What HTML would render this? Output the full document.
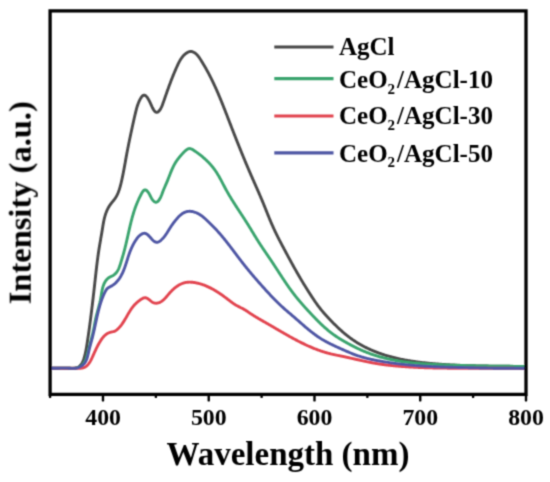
<!DOCTYPE html>
<html><head><meta charset="utf-8"><style>
html,body{margin:0;padding:0;background:#fff;}
body{width:550px;height:482px;overflow:hidden;}
svg{display:block;}
text{font-family:"Liberation Serif","Times New Roman",serif;font-weight:bold;fill:#000;}
</style></head><body>
<svg width="550" height="482" viewBox="0 0 550 482">
<defs><filter id="soft" x="0" y="0" width="550" height="482" filterUnits="userSpaceOnUse"><feConvolveMatrix order="3" kernelMatrix="0.0361 0.1178 0.0361 0.1178 0.3846 0.1178 0.0361 0.1178 0.0361" divisor="1" edgeMode="duplicate" preserveAlpha="false"/></filter></defs>
<rect width="550" height="482" fill="#fff"/>
<g filter="url(#soft)">
<g clip-path="url(#clip)">
<path d="M50.00,368.19L51.01,368.21L52.03,368.22L53.06,368.22L54.09,368.22L55.12,368.22L56.15,368.21L57.18,368.20L58.21,368.19L59.24,368.18L60.26,368.17L61.28,368.17L62.29,368.16L63.29,368.17L64.28,368.17L65.28,368.19L66.29,368.20L67.30,368.22L68.34,368.25L69.40,368.28L70.48,368.31L71.59,368.34L72.70,368.35L73.80,368.31L74.86,368.22L75.88,368.04L76.84,367.77L77.73,367.41L78.54,366.94L79.30,366.40L79.99,365.77L80.63,365.07L81.22,364.31L81.76,363.49L82.25,362.62L82.70,361.70L83.12,360.75L83.50,359.78L83.85,358.78L84.17,357.76L84.47,356.74L84.75,355.72L85.01,354.70L85.25,353.68L85.48,352.67L85.70,351.65L85.91,350.64L86.10,349.63L86.28,348.62L86.46,347.62L86.63,346.61L86.79,345.60L86.95,344.60L87.10,343.59L87.26,342.59L87.41,341.58L87.56,340.57L87.71,339.56L87.86,338.56L88.01,337.55L88.16,336.54L88.30,335.53L88.45,334.52L88.59,333.51L88.73,332.50L88.88,331.49L89.02,330.48L89.16,329.47L89.30,328.45L89.44,327.44L89.57,326.43L89.71,325.41L89.85,324.40L89.98,323.39L90.11,322.37L90.25,321.36L90.38,320.35L90.51,319.33L90.64,318.32L90.77,317.30L90.90,316.28L91.03,315.27L91.16,314.25L91.29,313.24L91.41,312.22L91.54,311.20L91.66,310.19L91.79,309.17L91.91,308.15L92.03,307.14L92.16,306.12L92.28,305.10L92.40,304.08L92.52,303.07L92.64,302.05L92.76,301.03L92.88,300.01L93.00,298.99L93.12,297.98L93.23,296.96L93.35,295.94L93.47,294.92L93.59,293.90L93.70,292.89L93.82,291.87L93.93,290.85L94.05,289.83L94.16,288.81L94.27,287.80L94.39,286.78L94.50,285.76L94.61,284.74L94.73,283.73L94.84,282.71L94.95,281.69L95.06,280.67L95.18,279.66L95.29,278.64L95.40,277.62L95.51,276.61L95.62,275.59L95.74,274.57L95.85,273.56L95.96,272.54L96.08,271.53L96.19,270.51L96.31,269.49L96.43,268.48L96.54,267.46L96.66,266.45L96.78,265.43L96.91,264.42L97.03,263.40L97.16,262.39L97.28,261.38L97.41,260.36L97.54,259.35L97.68,258.34L97.81,257.32L97.95,256.31L98.09,255.30L98.23,254.28L98.37,253.27L98.52,252.26L98.67,251.25L98.82,250.24L98.98,249.22L99.14,248.21L99.30,247.20L99.47,246.19L99.63,245.18L99.81,244.17L99.98,243.16L100.15,242.15L100.33,241.14L100.51,240.13L100.68,239.12L100.86,238.11L101.04,237.10L101.22,236.09L101.39,235.08L101.57,234.07L101.74,233.06L101.91,232.05L102.08,231.04L102.24,230.03L102.41,229.02L102.57,228.01L102.73,227.00L102.89,225.99L103.05,224.98L103.22,223.97L103.40,222.97L103.59,221.97L103.78,220.97L103.99,219.97L104.21,218.98L104.45,217.99L104.70,217.00L104.97,216.02L105.26,215.04L105.57,214.07L105.91,213.11L106.27,212.15L106.65,211.20L107.06,210.26L107.49,209.33L107.96,208.41L108.45,207.51L108.96,206.62L109.51,205.74L110.09,204.88L110.69,204.04L111.33,203.21L111.99,202.40L112.65,201.60L113.32,200.79L113.97,199.98L114.59,199.16L115.18,198.32L115.73,197.47L116.25,196.59L116.74,195.71L117.20,194.81L117.63,193.89L118.04,192.97L118.42,192.03L118.78,191.08L119.12,190.12L119.44,189.16L119.74,188.19L120.03,187.21L120.30,186.22L120.56,185.23L120.81,184.23L121.05,183.24L121.28,182.24L121.51,181.24L121.74,180.24L121.96,179.24L122.17,178.23L122.38,177.23L122.59,176.23L122.80,175.22L123.00,174.22L123.20,173.21L123.39,172.21L123.59,171.20L123.78,170.20L123.97,169.19L124.16,168.19L124.34,167.18L124.53,166.17L124.71,165.17L124.90,164.16L125.08,163.15L125.26,162.15L125.44,161.14L125.63,160.13L125.81,159.13L125.99,158.12L126.18,157.11L126.36,156.11L126.55,155.10L126.73,154.10L126.92,153.09L127.11,152.09L127.31,151.08L127.50,150.08L127.70,149.07L127.89,148.07L128.09,147.07L128.29,146.06L128.49,145.06L128.69,144.06L128.89,143.05L129.10,142.05L129.30,141.05L129.51,140.05L129.72,139.04L129.93,138.04L130.14,137.04L130.35,136.04L130.56,135.03L130.77,134.03L130.99,133.03L131.20,132.03L131.42,131.03L131.63,130.03L131.85,129.02L132.07,128.02L132.28,127.02L132.50,126.02L132.72,125.02L132.94,124.01L133.16,123.01L133.38,122.01L133.61,121.01L133.83,120.01L134.05,119.01L134.28,118.01L134.51,117.02L134.74,116.03L134.97,115.04L135.20,114.05L135.43,113.06L135.67,112.08L135.91,111.10L136.16,110.12L136.41,109.15L136.68,108.17L136.96,107.19L137.26,106.21L137.59,105.22L137.94,104.23L138.32,103.23L138.73,102.22L139.19,101.20L139.68,100.16L140.21,99.13L140.79,98.12L141.39,97.20L142.03,96.39L142.68,95.74L143.36,95.30L144.05,95.11L144.74,95.20L145.44,95.55L146.13,96.12L146.80,96.86L147.45,97.73L148.06,98.67L148.63,99.66L149.16,100.65L149.66,101.65L150.13,102.65L150.59,103.66L151.04,104.68L151.50,105.71L151.98,106.74L152.49,107.79L153.03,108.81L153.59,109.79L154.19,110.66L154.81,111.40L155.46,111.96L156.13,112.29L156.83,112.36L157.54,112.16L158.25,111.72L158.95,111.09L159.62,110.30L160.25,109.40L160.83,108.44L161.35,107.44L161.81,106.41L162.24,105.38L162.63,104.35L162.99,103.34L163.35,102.34L163.69,101.36L164.03,100.38L164.36,99.42L164.69,98.46L165.03,97.50L165.36,96.54L165.69,95.58L166.02,94.63L166.36,93.67L166.70,92.72L167.03,91.76L167.37,90.81L167.71,89.86L168.05,88.91L168.40,87.95L168.74,87.00L169.09,86.05L169.44,85.10L169.79,84.15L170.15,83.20L170.51,82.25L170.87,81.30L171.23,80.35L171.60,79.40L171.97,78.45L172.34,77.50L172.72,76.55L173.10,75.60L173.49,74.65L173.88,73.70L174.28,72.75L174.68,71.80L175.08,70.84L175.49,69.89L175.90,68.94L176.32,67.98L176.75,67.02L177.18,66.07L177.61,65.11L178.06,64.16L178.52,63.22L178.99,62.28L179.48,61.36L179.99,60.46L180.52,59.57L181.08,58.71L181.66,57.87L182.26,57.06L182.90,56.28L183.57,55.53L184.28,54.82L185.03,54.16L185.81,53.53L186.64,52.95L187.51,52.43L188.41,52.00L189.34,51.68L190.29,51.51L191.26,51.51L192.24,51.69L193.19,52.01L194.09,52.44L194.94,52.95L195.74,53.55L196.49,54.22L197.20,54.95L197.87,55.73L198.52,56.55L199.13,57.41L199.73,58.28L200.31,59.18L200.87,60.07L201.43,60.97L201.99,61.86L202.53,62.75L203.07,63.64L203.60,64.53L204.12,65.42L204.64,66.30L205.16,67.19L205.66,68.08L206.17,68.96L206.66,69.85L207.15,70.74L207.64,71.64L208.13,72.53L208.60,73.43L209.08,74.33L209.55,75.23L210.01,76.14L210.48,77.05L210.93,77.96L211.39,78.87L211.84,79.78L212.29,80.70L212.73,81.61L213.17,82.53L213.60,83.45L214.04,84.38L214.47,85.30L214.89,86.23L215.32,87.16L215.74,88.09L216.15,89.02L216.57,89.95L216.98,90.89L217.39,91.82L217.79,92.76L218.20,93.70L218.60,94.64L219.00,95.58L219.40,96.52L219.79,97.46L220.18,98.41L220.57,99.35L220.96,100.30L221.35,101.25L221.74,102.20L222.12,103.15L222.50,104.10L222.88,105.05L223.26,106.00L223.64,106.95L224.02,107.91L224.39,108.86L224.77,109.81L225.14,110.77L225.51,111.72L225.88,112.68L226.26,113.63L226.63,114.59L227.00,115.55L227.37,116.50L227.74,117.46L228.10,118.41L228.47,119.37L228.84,120.33L229.21,121.28L229.58,122.24L229.95,123.20L230.32,124.15L230.69,125.11L231.06,126.06L231.43,127.02L231.80,127.97L232.17,128.93L232.54,129.88L232.91,130.84L233.28,131.79L233.66,132.74L234.03,133.70L234.40,134.65L234.78,135.60L235.15,136.56L235.53,137.51L235.90,138.46L236.28,139.41L236.66,140.36L237.03,141.31L237.41,142.26L237.79,143.21L238.17,144.16L238.55,145.11L238.93,146.06L239.31,147.01L239.70,147.96L240.08,148.91L240.46,149.85L240.85,150.80L241.23,151.75L241.62,152.70L242.00,153.64L242.39,154.59L242.78,155.54L243.17,156.48L243.56,157.43L243.95,158.37L244.34,159.32L244.73,160.26L245.12,161.20L245.52,162.15L245.91,163.09L246.31,164.03L246.71,164.98L247.10,165.92L247.50,166.86L247.90,167.80L248.30,168.74L248.70,169.68L249.11,170.62L249.51,171.56L249.92,172.50L250.32,173.44L250.73,174.38L251.14,175.32L251.55,176.26L251.96,177.19L252.37,178.13L252.78,179.07L253.19,180.01L253.61,180.94L254.02,181.88L254.43,182.81L254.85,183.75L255.26,184.69L255.68,185.62L256.09,186.56L256.50,187.50L256.92,188.44L257.33,189.37L257.74,190.31L258.15,191.25L258.56,192.19L258.97,193.13L259.38,194.07L259.79,195.01L260.19,195.95L260.59,196.89L261.00,197.83L261.40,198.77L261.79,199.72L262.19,200.66L262.58,201.61L262.97,202.55L263.36,203.50L263.75,204.45L264.13,205.40L264.52,206.35L264.90,207.30L265.28,208.25L265.66,209.20L266.04,210.15L266.42,211.10L266.80,212.05L267.18,213.00L267.56,213.95L267.95,214.90L268.33,215.85L268.72,216.80L269.10,217.75L269.49,218.69L269.88,219.64L270.28,220.58L270.67,221.52L271.07,222.47L271.48,223.41L271.88,224.34L272.29,225.28L272.71,226.21L273.13,227.15L273.55,228.08L273.98,229.01L274.41,229.93L274.84,230.86L275.28,231.78L275.73,232.70L276.17,233.62L276.62,234.54L277.08,235.46L277.53,236.38L277.99,237.29L278.45,238.20L278.92,239.12L279.38,240.03L279.85,240.94L280.32,241.85L280.80,242.75L281.27,243.66L281.75,244.57L282.23,245.47L282.71,246.38L283.19,247.28L283.67,248.19L284.15,249.09L284.64,249.99L285.12,250.89L285.60,251.80L286.09,252.70L286.57,253.60L287.06,254.50L287.55,255.40L288.03,256.31L288.52,257.21L289.01,258.11L289.50,259.01L289.98,259.91L290.47,260.80L290.97,261.70L291.46,262.60L291.95,263.50L292.44,264.39L292.94,265.29L293.44,266.19L293.93,267.08L294.43,267.97L294.93,268.87L295.43,269.76L295.94,270.65L296.44,271.54L296.95,272.43L297.46,273.31L297.97,274.20L298.48,275.09L298.99,275.97L299.51,276.85L300.03,277.74L300.54,278.62L301.07,279.50L301.59,280.37L302.12,281.25L302.64,282.13L303.17,283.00L303.70,283.88L304.24,284.75L304.77,285.62L305.31,286.49L305.85,287.36L306.39,288.23L306.93,289.09L307.48,289.96L308.02,290.82L308.57,291.69L309.12,292.55L309.68,293.41L310.23,294.27L310.79,295.13L311.35,295.99L311.91,296.85L312.47,297.70L313.04,298.56L313.60,299.41L314.17,300.26L314.75,301.10L315.33,301.95L315.91,302.79L316.50,303.62L317.10,304.45L317.70,305.28L318.31,306.10L318.92,306.91L319.55,307.72L320.18,308.52L320.81,309.32L321.46,310.11L322.11,310.89L322.77,311.67L323.43,312.44L324.10,313.21L324.78,313.97L325.46,314.73L326.14,315.49L326.83,316.24L327.52,316.99L328.22,317.74L328.92,318.49L329.62,319.23L330.32,319.98L331.03,320.72L331.74,321.45L332.46,322.19L333.17,322.92L333.89,323.65L334.62,324.37L335.35,325.09L336.08,325.81L336.82,326.52L337.56,327.23L338.30,327.94L339.05,328.64L339.80,329.33L340.56,330.02L341.32,330.70L342.09,331.38L342.86,332.05L343.63,332.72L344.41,333.38L345.20,334.04L345.99,334.68L346.79,335.32L347.59,335.96L348.40,336.58L349.21,337.20L350.03,337.81L350.85,338.41L351.68,339.01L352.52,339.60L353.36,340.17L354.21,340.74L355.07,341.30L355.93,341.86L356.79,342.40L357.66,342.94L358.54,343.46L359.42,343.98L360.31,344.50L361.20,345.00L362.09,345.49L363.00,345.98L363.90,346.46L364.81,346.93L365.72,347.39L366.64,347.85L367.56,348.30L368.49,348.73L369.42,349.17L370.35,349.59L371.29,350.00L372.23,350.41L373.17,350.81L374.12,351.20L375.07,351.59L376.02,351.97L376.97,352.34L377.93,352.70L378.89,353.05L379.85,353.40L380.82,353.74L381.78,354.07L382.75,354.39L383.72,354.71L384.70,355.02L385.67,355.33L386.65,355.62L387.63,355.91L388.61,356.19L389.59,356.47L390.57,356.74L391.56,357.01L392.55,357.26L393.54,357.51L394.53,357.76L395.52,358.00L396.51,358.23L397.51,358.46L398.51,358.68L399.50,358.90L400.50,359.11L401.50,359.32L402.51,359.52L403.51,359.71L404.51,359.90L405.52,360.09L406.53,360.27L407.53,360.44L408.54,360.61L409.55,360.78L410.56,360.94L411.57,361.10L412.59,361.26L413.60,361.41L414.61,361.55L415.63,361.69L416.64,361.83L417.66,361.97L418.68,362.10L419.70,362.22L420.71,362.35L421.73,362.47L422.75,362.59L423.77,362.70L424.79,362.81L425.81,362.92L426.83,363.03L427.85,363.13L428.87,363.23L429.89,363.33L430.91,363.42L431.93,363.52L432.95,363.61L433.97,363.70L434.99,363.78L436.01,363.87L437.03,363.95L438.05,364.03L439.08,364.11L440.10,364.19L441.12,364.26L442.14,364.34L443.16,364.41L444.18,364.48L445.20,364.54L446.22,364.61L447.24,364.67L448.26,364.73L449.29,364.79L450.31,364.85L451.33,364.91L452.35,364.96L453.37,365.02L454.39,365.07L455.41,365.12L456.43,365.17L457.46,365.22L458.48,365.26L459.50,365.31L460.52,365.35L461.54,365.39L462.56,365.43L463.59,365.47L464.61,365.51L465.63,365.54L466.65,365.58L467.67,365.61L468.70,365.65L469.72,365.68L470.74,365.71L471.76,365.74L472.78,365.77L473.81,365.79L474.83,365.82L475.85,365.85L476.87,365.87L477.90,365.89L478.92,365.92L479.94,365.94L480.96,365.96L481.99,365.98L483.01,366.00L484.03,366.02L485.05,366.04L486.08,366.05L487.10,366.07L488.12,366.08L489.15,366.10L490.17,366.11L491.19,366.13L492.22,366.14L493.24,366.16L494.26,366.17L495.28,366.18L496.31,366.19L497.33,366.20L498.36,366.22L499.38,366.23L500.40,366.24L501.43,366.25L502.45,366.26L503.47,366.27L504.50,366.28L505.52,366.29L506.55,366.30L507.57,366.31L508.59,366.32L509.62,366.32L510.64,366.33L511.67,366.34L512.69,366.35L513.72,366.36L514.74,366.37L515.77,366.38L516.79,366.39L517.81,366.40L518.84,366.41L519.86,366.42L520.89,366.43L521.91,366.45L522.94,366.46L523.96,366.47L524.99,366.48L526.02,366.50" fill="none" stroke="#484848" stroke-width="2.9" stroke-linejoin="round" stroke-linecap="round"/>
<path d="M50.00,368.19L50.82,368.21L51.64,368.22L52.46,368.23L53.29,368.23L54.11,368.23L54.94,368.22L55.77,368.21L56.60,368.20L57.43,368.20L58.26,368.19L59.09,368.18L59.92,368.17L60.75,368.17L61.58,368.16L62.40,368.16L63.22,368.17L64.04,368.18L64.86,368.19L65.67,368.20L66.49,368.22L67.30,368.23L68.12,368.25L68.94,368.26L69.76,368.27L70.59,368.27L71.43,368.26L72.27,368.25L73.12,368.23L73.97,368.19L74.81,368.13L75.65,368.04L76.48,367.92L77.30,367.77L78.09,367.57L78.87,367.32L79.61,367.02L80.33,366.65L81.00,366.23L81.64,365.73L82.24,365.17L82.80,364.55L83.32,363.89L83.80,363.20L84.24,362.49L84.65,361.77L85.03,361.03L85.38,360.28L85.70,359.52L85.99,358.76L86.27,357.98L86.52,357.19L86.76,356.40L86.99,355.60L87.20,354.80L87.41,354.00L87.61,353.19L87.81,352.39L88.01,351.58L88.21,350.78L88.42,349.98L88.62,349.18L88.83,348.38L89.04,347.58L89.26,346.78L89.47,345.99L89.69,345.19L89.90,344.40L90.12,343.61L90.34,342.82L90.55,342.02L90.77,341.23L90.98,340.44L91.20,339.65L91.41,338.85L91.62,338.06L91.82,337.27L92.03,336.47L92.23,335.67L92.42,334.87L92.61,334.07L92.80,333.27L92.98,332.47L93.16,331.66L93.33,330.86L93.50,330.05L93.66,329.23L93.82,328.42L93.97,327.61L94.13,326.79L94.28,325.97L94.43,325.16L94.58,324.34L94.73,323.52L94.88,322.71L95.03,321.89L95.19,321.08L95.36,320.27L95.52,319.46L95.69,318.65L95.87,317.84L96.06,317.04L96.25,316.24L96.45,315.44L96.65,314.65L96.86,313.85L97.06,313.06L97.28,312.27L97.49,311.48L97.70,310.69L97.92,309.89L98.14,309.10L98.35,308.31L98.56,307.52L98.78,306.72L98.99,305.93L99.19,305.13L99.39,304.33L99.59,303.53L99.79,302.73L99.97,301.92L100.15,301.11L100.33,300.30L100.49,299.48L100.65,298.66L100.80,297.84L100.94,297.01L101.08,296.18L101.21,295.35L101.35,294.52L101.48,293.69L101.62,292.86L101.77,292.04L101.92,291.22L102.08,290.40L102.25,289.59L102.43,288.78L102.63,287.98L102.85,287.19L103.08,286.41L103.34,285.64L103.62,284.89L103.92,284.14L104.25,283.41L104.61,282.69L105.00,281.98L105.42,281.29L105.87,280.62L106.37,279.98L106.90,279.36L107.47,278.78L108.09,278.24L108.76,277.76L109.47,277.32L110.22,276.92L110.98,276.55L111.75,276.18L112.50,275.81L113.23,275.40L113.91,274.96L114.54,274.47L115.14,273.94L115.70,273.38L116.22,272.78L116.70,272.15L117.15,271.49L117.58,270.81L117.97,270.10L118.34,269.37L118.69,268.62L119.02,267.86L119.33,267.08L119.62,266.29L119.90,265.49L120.17,264.69L120.43,263.88L120.68,263.07L120.93,262.26L121.17,261.45L121.42,260.65L121.66,259.85L121.90,259.05L122.14,258.26L122.37,257.47L122.61,256.68L122.84,255.90L123.07,255.11L123.29,254.33L123.52,253.54L123.74,252.75L123.95,251.97L124.17,251.18L124.38,250.39L124.59,249.59L124.79,248.80L124.99,248.00L125.19,247.21L125.39,246.41L125.58,245.61L125.78,244.81L125.97,244.01L126.16,243.21L126.34,242.40L126.53,241.60L126.71,240.79L126.90,239.99L127.08,239.18L127.26,238.37L127.44,237.57L127.62,236.76L127.80,235.95L127.98,235.14L128.16,234.33L128.34,233.52L128.52,232.71L128.71,231.91L128.89,231.10L129.07,230.29L129.25,229.48L129.44,228.67L129.62,227.87L129.81,227.06L130.00,226.25L130.19,225.45L130.38,224.64L130.58,223.84L130.77,223.04L130.97,222.24L131.17,221.44L131.38,220.64L131.59,219.84L131.80,219.04L132.01,218.25L132.23,217.45L132.45,216.66L132.67,215.87L132.90,215.08L133.13,214.29L133.37,213.50L133.61,212.72L133.85,211.94L134.10,211.16L134.36,210.38L134.62,209.61L134.88,208.83L135.15,208.06L135.42,207.29L135.71,206.53L135.99,205.76L136.28,205.00L136.58,204.25L136.89,203.49L137.20,202.74L137.52,201.99L137.84,201.24L138.17,200.49L138.52,199.74L138.87,198.98L139.23,198.21L139.61,197.43L140.00,196.64L140.40,195.82L140.82,194.99L141.25,194.13L141.70,193.28L142.17,192.47L142.66,191.72L143.16,191.06L143.68,190.52L144.21,190.13L144.76,189.91L145.33,189.90L145.92,190.09L146.50,190.45L147.08,190.96L147.65,191.58L148.20,192.29L148.72,193.05L149.20,193.85L149.65,194.66L150.08,195.48L150.49,196.29L150.91,197.10L151.33,197.90L151.78,198.67L152.26,199.41L152.77,200.11L153.33,200.75L153.92,201.31L154.52,201.76L155.14,202.08L155.75,202.23L156.36,202.20L156.95,202.00L157.53,201.65L158.09,201.17L158.62,200.57L159.14,199.89L159.63,199.13L160.09,198.32L160.52,197.48L160.92,196.62L161.28,195.78L161.61,194.97L161.91,194.18L162.19,193.41L162.46,192.66L162.72,191.92L163.00,191.18L163.30,190.44L163.60,189.70L163.92,188.95L164.24,188.21L164.57,187.46L164.90,186.71L165.24,185.96L165.57,185.20L165.91,184.44L166.24,183.69L166.57,182.92L166.89,182.16L167.21,181.39L167.52,180.62L167.83,179.85L168.13,179.08L168.43,178.30L168.73,177.53L169.03,176.75L169.33,175.98L169.63,175.21L169.93,174.44L170.23,173.67L170.54,172.90L170.85,172.13L171.16,171.37L171.48,170.61L171.80,169.85L172.13,169.10L172.47,168.35L172.81,167.60L173.17,166.86L173.53,166.13L173.91,165.40L174.29,164.68L174.69,163.96L175.10,163.25L175.52,162.55L175.95,161.86L176.40,161.17L176.87,160.50L177.35,159.83L177.83,159.17L178.33,158.52L178.83,157.87L179.35,157.24L179.87,156.61L180.40,155.98L180.94,155.36L181.49,154.73L182.06,154.11L182.65,153.48L183.25,152.84L183.87,152.20L184.51,151.56L185.17,150.93L185.84,150.34L186.52,149.80L187.22,149.34L187.92,148.97L188.63,148.70L189.35,148.57L190.06,148.59L190.78,148.74L191.49,149.01L192.21,149.37L192.92,149.79L193.63,150.24L194.33,150.71L195.03,151.19L195.73,151.67L196.42,152.15L197.10,152.64L197.79,153.13L198.46,153.63L199.13,154.14L199.80,154.65L200.46,155.16L201.11,155.68L201.76,156.21L202.40,156.74L203.04,157.27L203.67,157.81L204.29,158.36L204.91,158.91L205.52,159.47L206.12,160.03L206.72,160.60L207.31,161.18L207.90,161.76L208.47,162.34L209.04,162.94L209.60,163.53L210.16,164.14L210.70,164.75L211.24,165.37L211.77,165.99L212.29,166.62L212.81,167.25L213.31,167.89L213.81,168.54L214.30,169.20L214.78,169.86L215.25,170.53L215.71,171.20L216.17,171.88L216.62,172.57L217.06,173.26L217.49,173.96L217.91,174.66L218.33,175.37L218.75,176.08L219.16,176.79L219.56,177.51L219.96,178.23L220.36,178.95L220.75,179.68L221.15,180.41L221.53,181.14L221.92,181.87L222.31,182.60L222.69,183.34L223.08,184.07L223.46,184.81L223.84,185.54L224.23,186.27L224.62,187.01L225.00,187.74L225.40,188.47L225.79,189.20L226.19,189.93L226.58,190.65L226.99,191.37L227.39,192.09L227.80,192.81L228.22,193.53L228.63,194.24L229.05,194.95L229.47,195.66L229.89,196.37L230.32,197.08L230.75,197.78L231.18,198.49L231.61,199.19L232.04,199.89L232.48,200.59L232.92,201.29L233.36,201.99L233.80,202.69L234.24,203.38L234.68,204.08L235.13,204.77L235.58,205.46L236.02,206.15L236.47,206.85L236.92,207.54L237.37,208.23L237.82,208.92L238.27,209.61L238.73,210.30L239.18,210.99L239.63,211.68L240.08,212.37L240.54,213.06L240.99,213.74L241.44,214.43L241.89,215.12L242.34,215.81L242.79,216.50L243.24,217.19L243.69,217.89L244.14,218.58L244.59,219.27L245.04,219.96L245.48,220.66L245.93,221.35L246.37,222.05L246.81,222.75L247.25,223.44L247.69,224.14L248.12,224.84L248.56,225.54L248.99,226.25L249.42,226.95L249.86,227.65L250.29,228.36L250.72,229.06L251.14,229.77L251.57,230.48L252.00,231.18L252.43,231.89L252.86,232.59L253.28,233.30L253.71,234.01L254.14,234.71L254.57,235.42L255.00,236.12L255.43,236.83L255.87,237.53L256.30,238.23L256.73,238.93L257.17,239.63L257.61,240.33L258.05,241.03L258.49,241.73L258.94,242.42L259.38,243.12L259.83,243.81L260.28,244.50L260.74,245.19L261.19,245.88L261.65,246.57L262.10,247.25L262.56,247.94L263.02,248.62L263.49,249.31L263.95,249.99L264.41,250.67L264.87,251.35L265.34,252.04L265.80,252.72L266.27,253.40L266.74,254.08L267.20,254.76L267.67,255.44L268.13,256.12L268.60,256.81L269.06,257.49L269.52,258.17L269.99,258.85L270.45,259.54L270.91,260.22L271.37,260.91L271.83,261.59L272.29,262.28L272.74,262.97L273.20,263.66L273.65,264.35L274.10,265.04L274.56,265.73L275.01,266.42L275.46,267.11L275.91,267.80L276.36,268.49L276.81,269.18L277.26,269.88L277.71,270.57L278.16,271.26L278.61,271.95L279.06,272.65L279.51,273.34L279.96,274.03L280.41,274.72L280.86,275.41L281.31,276.10L281.77,276.79L282.22,277.48L282.67,278.17L283.13,278.86L283.58,279.55L284.04,280.23L284.50,280.92L284.96,281.60L285.42,282.29L285.88,282.97L286.35,283.65L286.81,284.33L287.28,285.01L287.75,285.69L288.22,286.37L288.70,287.04L289.17,287.71L289.65,288.38L290.13,289.05L290.62,289.72L291.10,290.39L291.59,291.05L292.08,291.71L292.57,292.37L293.07,293.03L293.57,293.69L294.07,294.34L294.58,294.99L295.09,295.64L295.60,296.29L296.12,296.93L296.64,297.58L297.16,298.22L297.68,298.86L298.21,299.49L298.74,300.13L299.27,300.76L299.80,301.39L300.34,302.02L300.88,302.64L301.42,303.27L301.96,303.89L302.51,304.51L303.05,305.13L303.60,305.75L304.15,306.37L304.70,306.98L305.26,307.60L305.81,308.21L306.37,308.82L306.93,309.43L307.48,310.04L308.04,310.65L308.60,311.26L309.17,311.86L309.73,312.47L310.29,313.07L310.86,313.68L311.42,314.28L311.98,314.88L312.55,315.48L313.12,316.08L313.69,316.68L314.26,317.27L314.83,317.86L315.40,318.46L315.97,319.05L316.55,319.64L317.13,320.22L317.71,320.81L318.29,321.39L318.88,321.97L319.46,322.54L320.05,323.12L320.64,323.69L321.24,324.26L321.84,324.82L322.44,325.38L323.04,325.94L323.65,326.50L324.26,327.05L324.88,327.59L325.49,328.14L326.12,328.68L326.74,329.21L327.37,329.75L328.01,330.27L328.64,330.80L329.29,331.31L329.93,331.83L330.58,332.34L331.24,332.84L331.90,333.34L332.56,333.84L333.22,334.32L333.89,334.81L334.56,335.29L335.24,335.76L335.92,336.23L336.60,336.69L337.29,337.15L337.98,337.60L338.67,338.04L339.37,338.48L340.06,338.91L340.77,339.34L341.47,339.76L342.18,340.18L342.89,340.60L343.60,341.01L344.31,341.42L345.03,341.83L345.74,342.23L346.46,342.63L347.18,343.03L347.91,343.43L348.63,343.82L349.36,344.22L350.09,344.61L350.81,344.99L351.55,345.38L352.28,345.76L353.01,346.14L353.75,346.52L354.49,346.89L355.23,347.26L355.97,347.62L356.71,347.99L357.46,348.35L358.20,348.70L358.95,349.05L359.70,349.40L360.46,349.74L361.21,350.08L361.96,350.41L362.72,350.74L363.48,351.07L364.24,351.39L365.00,351.70L365.77,352.01L366.54,352.32L367.30,352.62L368.07,352.91L368.84,353.20L369.62,353.49L370.39,353.77L371.17,354.05L371.94,354.32L372.72,354.59L373.50,354.85L374.29,355.11L375.07,355.36L375.86,355.61L376.64,355.85L377.43,356.09L378.22,356.33L379.01,356.56L379.80,356.79L380.59,357.01L381.39,357.23L382.18,357.44L382.98,357.65L383.78,357.86L384.58,358.06L385.38,358.26L386.18,358.46L386.98,358.65L387.78,358.83L388.59,359.02L389.39,359.20L390.20,359.37L391.00,359.54L391.81,359.71L392.62,359.87L393.43,360.04L394.24,360.19L395.05,360.35L395.86,360.50L396.67,360.64L397.49,360.79L398.30,360.93L399.11,361.07L399.93,361.20L400.74,361.33L401.56,361.46L402.38,361.58L403.19,361.70L404.01,361.82L404.83,361.94L405.65,362.05L406.46,362.16L407.28,362.27L408.10,362.37L408.92,362.47L409.74,362.57L410.56,362.66L411.38,362.76L412.20,362.85L413.02,362.93L413.84,363.02L414.66,363.10L415.48,363.18L416.31,363.26L417.13,363.34L417.95,363.41L418.77,363.48L419.59,363.55L420.41,363.62L421.24,363.68L422.06,363.75L422.88,363.81L423.71,363.87L424.53,363.92L425.35,363.98L426.17,364.03L427.00,364.09L427.82,364.14L428.64,364.19L429.47,364.23L430.29,364.28L431.12,364.32L431.94,364.37L432.76,364.41L433.59,364.45L434.41,364.49L435.24,364.53L436.06,364.57L436.89,364.60L437.71,364.64L438.53,364.67L439.36,364.71L440.18,364.74L441.01,364.77L441.83,364.81L442.66,364.84L443.48,364.87L444.31,364.90L445.13,364.93L445.96,364.95L446.78,364.98L447.61,365.01L448.43,365.04L449.26,365.07L450.08,365.09L450.91,365.12L451.73,365.15L452.56,365.18L453.38,365.20L454.21,365.23L455.03,365.25L455.86,365.28L456.68,365.30L457.51,365.33L458.33,365.35L459.16,365.38L459.98,365.40L460.81,365.43L461.63,365.45L462.46,365.47L463.28,365.50L464.11,365.52L464.93,365.54L465.76,365.57L466.58,365.59L467.41,365.61L468.23,365.63L469.06,365.65L469.88,365.67L470.71,365.69L471.53,365.71L472.36,365.73L473.18,365.75L474.01,365.77L474.83,365.79L475.66,365.81L476.48,365.83L477.31,365.85L478.13,365.87L478.96,365.88L479.78,365.90L480.61,365.92L481.43,365.93L482.26,365.95L483.08,365.97L483.91,365.98L484.74,366.00L485.56,366.01L486.39,366.03L487.21,366.04L488.04,366.06L488.86,366.07L489.69,366.08L490.51,366.10L491.34,366.11L492.16,366.12L492.99,366.13L493.81,366.15L494.64,366.16L495.46,366.17L496.29,366.18L497.11,366.19L497.94,366.20L498.76,366.21L499.59,366.22L500.41,366.23L501.24,366.24L502.06,366.25L502.89,366.25L503.72,366.26L504.54,366.27L505.37,366.28L506.19,366.28L507.02,366.29L507.84,366.30L508.67,366.30L509.49,366.31L510.32,366.31L511.14,366.32L511.97,366.32L512.79,366.32L513.62,366.33L514.44,366.33L515.27,366.33L516.10,366.33L516.92,366.34L517.75,366.34L518.57,366.34L519.40,366.34L520.22,366.34L521.05,366.34L521.87,366.34L522.70,366.34L523.53,366.34L524.35,366.34L525.18,366.33L526.00,366.33" fill="none" stroke="#3aa46e" stroke-width="2.9" stroke-linejoin="round" stroke-linecap="round"/>
<path d="M50.01,368.20L50.60,368.20L51.19,368.20L51.78,368.20L52.38,368.21L52.98,368.21L53.58,368.21L54.18,368.21L54.78,368.21L55.38,368.21L55.99,368.21L56.59,368.21L57.20,368.21L57.80,368.20L58.41,368.20L59.02,368.20L59.62,368.20L60.23,368.20L60.84,368.20L61.44,368.19L62.05,368.19L62.65,368.19L63.25,368.19L63.85,368.19L64.45,368.19L65.05,368.19L65.65,368.18L66.24,368.18L66.83,368.18L67.42,368.18L68.01,368.18L68.60,368.18L69.19,368.19L69.77,368.19L70.36,368.19L70.95,368.20L71.54,368.20L72.14,368.21L72.73,368.22L73.34,368.23L73.94,368.25L74.55,368.26L75.17,368.28L75.80,368.30L76.42,368.32L77.05,368.34L77.68,368.35L78.31,368.35L78.94,368.34L79.56,368.32L80.18,368.29L80.79,368.24L81.39,368.17L81.98,368.08L82.55,367.96L83.11,367.82L83.66,367.65L84.18,367.45L84.69,367.22L85.18,366.95L85.66,366.66L86.11,366.34L86.55,366.00L86.98,365.63L87.39,365.23L87.78,364.81L88.16,364.38L88.53,363.92L88.89,363.45L89.24,362.96L89.57,362.46L89.89,361.94L90.21,361.41L90.52,360.87L90.81,360.32L91.10,359.77L91.39,359.21L91.67,358.64L91.94,358.07L92.20,357.50L92.47,356.93L92.73,356.35L92.98,355.79L93.24,355.22L93.49,354.66L93.74,354.10L93.99,353.55L94.24,353.00L94.48,352.45L94.73,351.91L94.98,351.37L95.23,350.83L95.48,350.29L95.73,349.76L95.98,349.22L96.23,348.70L96.49,348.17L96.74,347.64L97.00,347.12L97.27,346.59L97.53,346.07L97.81,345.55L98.08,345.03L98.36,344.52L98.65,344.00L98.94,343.48L99.23,342.96L99.53,342.45L99.84,341.93L100.16,341.41L100.48,340.90L100.81,340.39L101.14,339.88L101.49,339.37L101.84,338.88L102.20,338.39L102.57,337.91L102.96,337.43L103.35,336.97L103.75,336.52L104.16,336.09L104.58,335.67L105.02,335.26L105.47,334.88L105.93,334.51L106.40,334.16L106.88,333.83L107.38,333.52L107.89,333.24L108.42,332.98L108.96,332.74L109.52,332.53L110.09,332.35L110.67,332.20L111.27,332.06L111.87,331.93L112.47,331.81L113.06,331.67L113.65,331.51L114.22,331.33L114.78,331.10L115.31,330.84L115.81,330.53L116.30,330.19L116.77,329.83L117.23,329.44L117.68,329.05L118.11,328.64L118.54,328.22L118.95,327.80L119.36,327.36L119.76,326.92L120.15,326.47L120.53,326.02L120.90,325.55L121.27,325.08L121.62,324.61L121.98,324.13L122.32,323.64L122.66,323.15L123.00,322.65L123.33,322.15L123.65,321.64L123.97,321.13L124.29,320.62L124.61,320.10L124.92,319.58L125.22,319.06L125.53,318.54L125.83,318.01L126.14,317.49L126.44,316.96L126.74,316.43L127.04,315.91L127.34,315.38L127.64,314.85L127.95,314.33L128.25,313.80L128.56,313.28L128.86,312.76L129.17,312.24L129.49,311.73L129.80,311.21L130.12,310.70L130.45,310.20L130.78,309.70L131.11,309.20L131.45,308.71L131.79,308.22L132.14,307.74L132.50,307.27L132.86,306.80L133.23,306.34L133.61,305.88L134.00,305.43L134.39,304.99L134.80,304.56L135.21,304.14L135.63,303.72L136.07,303.32L136.51,302.91L136.96,302.52L137.43,302.12L137.90,301.73L138.39,301.34L138.89,300.95L139.40,300.56L139.92,300.17L140.46,299.78L141.00,299.40L141.55,299.04L142.11,298.71L142.67,298.41L143.23,298.16L143.79,297.96L144.34,297.82L144.89,297.75L145.43,297.76L145.96,297.85L146.49,298.01L147.00,298.23L147.51,298.51L148.02,298.83L148.53,299.18L149.03,299.57L149.53,299.97L150.03,300.38L150.54,300.79L151.05,301.20L151.56,301.58L152.08,301.94L152.60,302.27L153.13,302.56L153.67,302.79L154.22,302.97L154.78,303.09L155.34,303.17L155.90,303.20L156.47,303.19L157.03,303.13L157.59,303.03L158.15,302.90L158.70,302.74L159.24,302.54L159.77,302.32L160.29,302.07L160.80,301.80L161.29,301.51L161.77,301.19L162.23,300.86L162.69,300.51L163.13,300.14L163.57,299.76L163.99,299.36L164.41,298.95L164.83,298.53L165.24,298.10L165.64,297.66L166.04,297.21L166.44,296.76L166.83,296.30L167.23,295.83L167.62,295.36L168.02,294.89L168.42,294.42L168.82,293.95L169.23,293.48L169.64,293.01L170.05,292.55L170.48,292.09L170.90,291.64L171.34,291.19L171.77,290.74L172.22,290.30L172.66,289.87L173.12,289.45L173.58,289.03L174.04,288.62L174.51,288.22L174.99,287.83L175.47,287.45L175.95,287.07L176.44,286.71L176.93,286.36L177.43,286.02L177.94,285.69L178.45,285.37L178.96,285.07L179.48,284.77L180.01,284.49L180.54,284.23L181.07,283.98L181.61,283.74L182.15,283.52L182.70,283.31L183.25,283.13L183.81,282.95L184.37,282.80L184.94,282.66L185.51,282.54L186.08,282.44L186.66,282.35L187.25,282.28L187.83,282.23L188.42,282.19L189.01,282.16L189.60,282.16L190.20,282.16L190.79,282.18L191.39,282.21L191.99,282.25L192.59,282.31L193.19,282.37L193.79,282.45L194.38,282.54L194.98,282.63L195.58,282.74L196.17,282.85L196.76,282.98L197.35,283.11L197.94,283.24L198.52,283.39L199.10,283.54L199.68,283.70L200.26,283.86L200.83,284.03L201.41,284.21L201.98,284.39L202.54,284.58L203.11,284.78L203.67,284.98L204.23,285.19L204.79,285.41L205.35,285.63L205.90,285.85L206.45,286.08L207.00,286.32L207.55,286.56L208.09,286.81L208.63,287.06L209.18,287.32L209.71,287.58L210.25,287.85L210.78,288.12L211.32,288.40L211.85,288.68L212.37,288.97L212.90,289.26L213.42,289.55L213.95,289.85L214.47,290.15L214.99,290.45L215.50,290.76L216.02,291.08L216.53,291.39L217.04,291.71L217.55,292.03L218.06,292.36L218.56,292.69L219.07,293.02L219.57,293.35L220.07,293.69L220.57,294.03L221.06,294.37L221.56,294.72L222.05,295.06L222.54,295.41L223.03,295.76L223.52,296.12L224.01,296.47L224.49,296.83L224.98,297.18L225.46,297.54L225.94,297.90L226.42,298.27L226.90,298.63L227.38,298.99L227.85,299.36L228.33,299.72L228.80,300.09L229.27,300.45L229.75,300.82L230.22,301.18L230.70,301.54L231.18,301.89L231.66,302.25L232.14,302.60L232.62,302.95L233.11,303.29L233.60,303.63L234.10,303.96L234.60,304.28L235.10,304.60L235.61,304.92L236.12,305.22L236.64,305.52L237.17,305.81L237.70,306.09L238.23,306.37L238.77,306.64L239.31,306.91L239.86,307.18L240.40,307.45L240.95,307.71L241.49,307.98L242.03,308.26L242.57,308.53L243.10,308.82L243.62,309.11L244.15,309.41L244.66,309.72L245.17,310.03L245.68,310.35L246.18,310.67L246.68,311.00L247.18,311.33L247.68,311.67L248.17,312.00L248.67,312.34L249.16,312.68L249.66,313.01L250.16,313.35L250.65,313.68L251.15,314.01L251.66,314.33L252.16,314.66L252.66,314.98L253.17,315.30L253.68,315.62L254.19,315.94L254.70,316.25L255.21,316.56L255.72,316.88L256.23,317.19L256.75,317.50L257.26,317.80L257.78,318.11L258.30,318.41L258.81,318.72L259.33,319.02L259.85,319.32L260.37,319.62L260.89,319.92L261.41,320.22L261.93,320.52L262.46,320.82L262.98,321.12L263.50,321.42L264.02,321.72L264.54,322.01L265.07,322.31L265.59,322.61L266.11,322.91L266.63,323.20L267.15,323.50L267.68,323.80L268.20,324.10L268.72,324.40L269.24,324.70L269.76,325.00L270.28,325.30L270.80,325.60L271.32,325.90L271.84,326.21L272.36,326.51L272.88,326.81L273.39,327.11L273.91,327.41L274.43,327.72L274.95,328.02L275.47,328.32L275.99,328.63L276.51,328.93L277.02,329.23L277.54,329.53L278.06,329.84L278.58,330.14L279.10,330.44L279.62,330.74L280.14,331.04L280.65,331.35L281.17,331.65L281.69,331.95L282.21,332.25L282.73,332.55L283.25,332.85L283.77,333.15L284.29,333.45L284.81,333.75L285.33,334.04L285.85,334.34L286.37,334.64L286.90,334.93L287.42,335.23L287.94,335.52L288.46,335.82L288.98,336.11L289.51,336.40L290.03,336.70L290.56,336.99L291.08,337.28L291.61,337.57L292.13,337.86L292.66,338.14L293.18,338.43L293.71,338.72L294.24,339.00L294.77,339.29L295.30,339.57L295.82,339.85L296.35,340.13L296.89,340.41L297.42,340.69L297.95,340.96L298.48,341.24L299.02,341.51L299.55,341.79L300.08,342.06L300.62,342.33L301.16,342.60L301.69,342.86L302.23,343.13L302.77,343.39L303.31,343.66L303.85,343.92L304.39,344.18L304.94,344.44L305.48,344.69L306.02,344.95L306.57,345.20L307.12,345.45L307.66,345.70L308.21,345.95L308.76,346.20L309.31,346.44L309.86,346.68L310.41,346.92L310.97,347.16L311.52,347.40L312.07,347.63L312.63,347.86L313.19,348.09L313.74,348.32L314.30,348.54L314.86,348.77L315.42,348.99L315.98,349.20L316.54,349.42L317.11,349.63L317.67,349.84L318.23,350.05L318.80,350.26L319.37,350.46L319.93,350.66L320.50,350.86L321.07,351.05L321.64,351.25L322.21,351.43L322.78,351.62L323.35,351.80L323.92,351.98L324.50,352.16L325.07,352.34L325.65,352.51L326.22,352.68L326.80,352.84L327.38,353.00L327.96,353.16L328.54,353.32L329.12,353.47L329.70,353.62L330.28,353.76L330.86,353.91L331.44,354.04L332.03,354.18L332.61,354.31L333.19,354.44L333.78,354.57L334.36,354.70L334.95,354.82L335.54,354.95L336.12,355.07L336.71,355.19L337.30,355.31L337.89,355.43L338.47,355.55L339.06,355.67L339.65,355.79L340.24,355.91L340.83,356.02L341.41,356.14L342.00,356.27L342.59,356.39L343.18,356.51L343.76,356.63L344.35,356.76L344.94,356.88L345.53,357.01L346.11,357.14L346.70,357.27L347.29,357.39L347.87,357.52L348.46,357.65L349.05,357.78L349.63,357.91L350.22,358.05L350.81,358.18L351.39,358.31L351.98,358.44L352.57,358.57L353.15,358.71L353.74,358.84L354.33,358.97L354.91,359.10L355.50,359.24L356.09,359.37L356.67,359.50L357.26,359.63L357.85,359.77L358.43,359.90L359.02,360.03L359.61,360.16L360.19,360.29L360.78,360.42L361.37,360.55L361.95,360.68L362.54,360.81L363.13,360.94L363.72,361.06L364.30,361.19L364.89,361.32L365.48,361.44L366.07,361.56L366.66,361.69L367.24,361.81L367.83,361.93L368.42,362.05L369.01,362.17L369.60,362.28L370.19,362.40L370.78,362.51L371.37,362.63L371.96,362.74L372.55,362.85L373.14,362.96L373.73,363.06L374.32,363.17L374.91,363.27L375.51,363.38L376.10,363.48L376.69,363.57L377.28,363.67L377.87,363.77L378.47,363.86L379.06,363.95L379.65,364.04L380.25,364.13L380.84,364.22L381.43,364.30L382.03,364.39L382.62,364.47L383.22,364.55L383.81,364.63L384.41,364.71L385.00,364.79L385.60,364.86L386.19,364.94L386.79,365.01L387.39,365.08L387.98,365.15L388.58,365.22L389.17,365.29L389.77,365.35L390.37,365.42L390.97,365.48L391.56,365.54L392.16,365.61L392.76,365.67L393.35,365.72L393.95,365.78L394.55,365.84L395.15,365.90L395.75,365.95L396.34,366.00L396.94,366.06L397.54,366.11L398.14,366.16L398.74,366.21L399.34,366.26L399.93,366.31L400.53,366.35L401.13,366.40L401.73,366.45L402.33,366.49L402.93,366.53L403.53,366.58L404.13,366.62L404.73,366.66L405.32,366.70L405.92,366.74L406.52,366.78L407.12,366.82L407.72,366.86L408.32,366.90L408.92,366.93L409.52,366.97L410.12,367.01L410.72,367.04L411.32,367.07L411.92,367.11L412.52,367.14L413.12,367.17L413.71,367.21L414.31,367.24L414.91,367.27L415.51,367.30L416.11,367.33L416.71,367.36L417.31,367.38L417.91,367.41L418.51,367.44L419.11,367.46L419.71,367.49L420.31,367.52L420.91,367.54L421.51,367.57L422.11,367.59L422.71,367.61L423.31,367.64L423.91,367.66L424.51,367.68L425.11,367.70L425.71,367.72L426.31,367.74L426.91,367.76L427.51,367.78L428.11,367.80L428.71,367.82L429.31,367.84L429.91,367.85L430.51,367.87L431.11,367.89L431.71,367.90L432.31,367.92L432.91,367.93L433.51,367.95L434.11,367.96L434.71,367.98L435.31,367.99L435.91,368.00L436.51,368.02L437.11,368.03L437.71,368.04L438.31,368.05L438.91,368.06L439.51,368.07L440.11,368.08L440.71,368.09L441.32,368.10L441.92,368.11L442.52,368.12L443.12,368.13L443.72,368.14L444.32,368.15L444.92,368.15L445.52,368.16L446.12,368.17L446.72,368.17L447.32,368.18L447.92,368.19L448.52,368.19L449.12,368.20L449.72,368.20L450.32,368.21L450.92,368.21L451.52,368.22L452.12,368.22L452.73,368.23L453.33,368.23L453.93,368.23L454.53,368.24L455.13,368.24L455.73,368.24L456.33,368.25L456.93,368.25L457.53,368.25L458.13,368.25L458.73,368.25L459.33,368.25L459.93,368.26L460.53,368.26L461.13,368.26L461.74,368.26L462.34,368.26L462.94,368.26L463.54,368.26L464.14,368.26L464.74,368.26L465.34,368.26L465.94,368.26L466.54,368.26L467.14,368.26L467.74,368.26L468.34,368.26L468.94,368.26L469.54,368.26L470.15,368.26L470.75,368.26L471.35,368.25L471.95,368.25L472.55,368.25L473.15,368.25L473.75,368.25L474.35,368.25L474.95,368.25L475.55,368.25L476.15,368.24L476.75,368.24L477.36,368.24L477.96,368.24L478.56,368.24L479.16,368.24L479.76,368.23L480.36,368.23L480.96,368.23L481.56,368.23L482.16,368.23L482.76,368.23L483.36,368.23L483.96,368.22L484.56,368.22L485.16,368.22L485.77,368.22L486.37,368.22L486.97,368.22L487.57,368.22L488.17,368.22L488.77,368.21L489.37,368.21L489.97,368.21L490.57,368.21L491.17,368.21L491.77,368.21L492.37,368.21L492.97,368.21L493.57,368.21L494.18,368.21L494.78,368.21L495.38,368.21L495.98,368.21L496.58,368.21L497.18,368.21L497.78,368.21L498.38,368.22L498.98,368.22L499.58,368.22L500.18,368.22L500.78,368.22L501.38,368.22L501.98,368.23L502.58,368.23L503.18,368.23L503.78,368.23L504.38,368.24L504.99,368.24L505.59,368.24L506.19,368.25L506.79,368.25L507.39,368.26L507.99,368.26L508.59,368.27L509.19,368.27L509.79,368.28L510.39,368.28L510.99,368.29L511.59,368.29L512.19,368.30L512.79,368.31L513.39,368.32L513.99,368.32L514.59,368.33L515.19,368.34L515.79,368.35L516.39,368.36L516.99,368.37L517.59,368.37L518.19,368.38L518.79,368.39L519.39,368.41L519.99,368.42L520.59,368.43L521.19,368.44L521.79,368.45L522.39,368.46L522.99,368.48L523.59,368.49L524.19,368.50L524.79,368.52L525.39,368.53L525.99,368.55" fill="none" stroke="#e24450" stroke-width="2.9" stroke-linejoin="round" stroke-linecap="round"/>
<path d="M49.99,368.17L50.72,368.21L51.44,368.24L52.16,368.26L52.88,368.27L53.60,368.28L54.31,368.28L55.02,368.27L55.73,368.26L56.44,368.25L57.15,368.24L57.86,368.22L58.56,368.20L59.27,368.18L59.98,368.16L60.68,368.15L61.39,368.13L62.10,368.12L62.80,368.10L63.51,368.10L64.23,368.09L64.94,368.10L65.65,368.10L66.37,368.12L67.09,368.14L67.81,368.17L68.54,368.21L69.26,368.25L69.99,368.29L70.72,368.33L71.45,368.37L72.17,368.39L72.90,368.40L73.62,368.39L74.34,368.36L75.05,368.30L75.76,368.22L76.46,368.11L77.15,367.96L77.83,367.78L78.51,367.56L79.17,367.30L79.82,367.01L80.45,366.68L81.06,366.33L81.66,365.94L82.23,365.53L82.77,365.08L83.30,364.61L83.79,364.11L84.25,363.59L84.68,363.05L85.08,362.48L85.45,361.89L85.79,361.29L86.10,360.66L86.39,360.02L86.65,359.37L86.90,358.70L87.12,358.02L87.33,357.33L87.53,356.63L87.72,355.93L87.89,355.22L88.06,354.50L88.22,353.79L88.38,353.07L88.54,352.35L88.70,351.64L88.86,350.92L89.03,350.21L89.20,349.51L89.37,348.81L89.54,348.11L89.72,347.42L89.90,346.72L90.09,346.03L90.27,345.34L90.45,344.66L90.64,343.97L90.83,343.29L91.01,342.61L91.20,341.93L91.38,341.25L91.57,340.56L91.75,339.88L91.93,339.20L92.11,338.52L92.29,337.84L92.46,337.15L92.64,336.47L92.81,335.78L92.97,335.10L93.14,334.41L93.30,333.72L93.46,333.03L93.62,332.34L93.78,331.65L93.94,330.96L94.09,330.26L94.25,329.57L94.40,328.88L94.55,328.18L94.70,327.49L94.85,326.79L95.00,326.10L95.15,325.40L95.30,324.70L95.45,324.01L95.60,323.31L95.75,322.61L95.90,321.91L96.05,321.21L96.20,320.51L96.35,319.82L96.50,319.12L96.66,318.42L96.81,317.72L96.97,317.02L97.12,316.32L97.28,315.62L97.44,314.92L97.61,314.23L97.77,313.53L97.94,312.83L98.10,312.13L98.27,311.44L98.45,310.74L98.62,310.04L98.80,309.35L98.98,308.65L99.17,307.96L99.36,307.27L99.55,306.58L99.75,305.89L99.95,305.20L100.15,304.51L100.36,303.83L100.57,303.15L100.79,302.47L101.01,301.79L101.24,301.11L101.47,300.44L101.71,299.77L101.95,299.10L102.20,298.43L102.46,297.77L102.72,297.11L102.99,296.45L103.26,295.79L103.54,295.14L103.83,294.50L104.12,293.85L104.43,293.21L104.73,292.57L105.05,291.94L105.38,291.31L105.71,290.69L106.07,290.09L106.46,289.51L106.88,288.97L107.36,288.47L107.89,288.03L108.46,287.63L109.08,287.27L109.72,286.92L110.37,286.59L111.02,286.25L111.67,285.90L112.29,285.52L112.90,285.13L113.49,284.71L114.06,284.28L114.62,283.83L115.16,283.36L115.68,282.88L116.19,282.38L116.69,281.87L117.17,281.34L117.63,280.80L118.08,280.25L118.52,279.69L118.94,279.12L119.35,278.54L119.75,277.96L120.13,277.36L120.50,276.76L120.86,276.15L121.20,275.53L121.54,274.91L121.87,274.28L122.18,273.65L122.49,273.01L122.79,272.36L123.08,271.71L123.36,271.06L123.63,270.40L123.90,269.73L124.16,269.07L124.41,268.40L124.66,267.72L124.90,267.05L125.14,266.37L125.37,265.69L125.60,265.00L125.82,264.32L126.05,263.63L126.27,262.95L126.49,262.26L126.70,261.57L126.92,260.88L127.14,260.20L127.35,259.51L127.57,258.82L127.79,258.14L128.00,257.45L128.22,256.77L128.45,256.09L128.67,255.41L128.90,254.74L129.13,254.07L129.37,253.40L129.61,252.73L129.85,252.07L130.10,251.41L130.36,250.76L130.62,250.11L130.89,249.46L131.17,248.82L131.45,248.17L131.74,247.53L132.03,246.90L132.34,246.27L132.65,245.63L132.97,245.01L133.30,244.38L133.63,243.76L133.98,243.14L134.34,242.52L134.70,241.91L135.08,241.29L135.47,240.68L135.86,240.07L136.27,239.47L136.69,238.87L137.13,238.27L137.59,237.69L138.07,237.12L138.57,236.57L139.10,236.04L139.66,235.53L140.25,235.05L140.86,234.61L141.49,234.21L142.13,233.87L142.78,233.60L143.42,233.41L144.06,233.31L144.68,233.31L145.28,233.41L145.87,233.60L146.45,233.87L147.01,234.22L147.56,234.63L148.11,235.10L148.64,235.61L149.18,236.16L149.71,236.74L150.24,237.33L150.77,237.94L151.30,238.54L151.83,239.14L152.38,239.71L152.92,240.26L153.48,240.77L154.05,241.23L154.62,241.63L155.20,241.95L155.79,242.18L156.38,242.30L156.98,242.32L157.59,242.22L158.20,242.03L158.80,241.75L159.40,241.40L159.99,240.99L160.57,240.54L161.14,240.06L161.68,239.56L162.21,239.04L162.72,238.51L163.22,237.97L163.70,237.42L164.16,236.85L164.61,236.28L165.06,235.69L165.48,235.10L165.90,234.50L166.31,233.90L166.72,233.29L167.11,232.68L167.50,232.07L167.89,231.46L168.27,230.84L168.65,230.23L169.02,229.62L169.40,229.01L169.77,228.41L170.15,227.81L170.53,227.22L170.91,226.64L171.29,226.06L171.68,225.48L172.07,224.92L172.47,224.35L172.88,223.79L173.29,223.23L173.71,222.67L174.13,222.11L174.56,221.56L175.00,221.00L175.45,220.44L175.91,219.88L176.38,219.31L176.86,218.75L177.35,218.19L177.85,217.64L178.36,217.10L178.88,216.56L179.41,216.05L179.95,215.54L180.50,215.05L181.06,214.59L181.63,214.14L182.21,213.72L182.81,213.33L183.41,212.96L184.03,212.63L184.66,212.33L185.29,212.07L185.94,211.84L186.61,211.66L187.28,211.51L187.96,211.41L188.65,211.34L189.35,211.31L190.05,211.32L190.76,211.36L191.46,211.44L192.17,211.55L192.88,211.68L193.58,211.85L194.28,212.04L194.97,212.26L195.65,212.51L196.33,212.77L196.99,213.06L197.64,213.37L198.28,213.70L198.91,214.04L199.53,214.41L200.13,214.78L200.72,215.18L201.31,215.59L201.88,216.01L202.45,216.44L203.01,216.88L203.56,217.34L204.11,217.80L204.65,218.27L205.18,218.75L205.71,219.24L206.24,219.73L206.76,220.22L207.28,220.72L207.79,221.21L208.31,221.71L208.82,222.21L209.34,222.71L209.85,223.21L210.36,223.72L210.87,224.22L211.37,224.72L211.88,225.22L212.38,225.73L212.88,226.23L213.38,226.74L213.88,227.25L214.38,227.76L214.87,228.27L215.36,228.79L215.85,229.30L216.34,229.82L216.82,230.34L217.30,230.87L217.78,231.39L218.26,231.92L218.73,232.45L219.20,232.98L219.67,233.52L220.14,234.05L220.60,234.59L221.06,235.13L221.52,235.67L221.98,236.22L222.44,236.76L222.89,237.31L223.35,237.86L223.80,238.41L224.25,238.96L224.70,239.52L225.14,240.07L225.59,240.63L226.03,241.19L226.47,241.74L226.91,242.30L227.36,242.87L227.79,243.43L228.23,243.99L228.67,244.55L229.10,245.12L229.54,245.68L229.97,246.25L230.41,246.82L230.84,247.39L231.27,247.95L231.70,248.52L232.14,249.09L232.57,249.66L233.00,250.23L233.43,250.80L233.86,251.37L234.29,251.94L234.72,252.52L235.15,253.09L235.57,253.66L236.00,254.23L236.43,254.80L236.86,255.37L237.29,255.94L237.72,256.51L238.16,257.08L238.59,257.65L239.02,258.22L239.45,258.79L239.88,259.36L240.32,259.92L240.75,260.49L241.19,261.06L241.62,261.62L242.06,262.19L242.50,262.75L242.94,263.31L243.38,263.87L243.82,264.43L244.26,264.99L244.71,265.55L245.15,266.11L245.60,266.67L246.04,267.22L246.49,267.78L246.94,268.33L247.39,268.89L247.84,269.44L248.29,269.99L248.75,270.54L249.20,271.09L249.65,271.64L250.11,272.19L250.57,272.73L251.02,273.28L251.48,273.83L251.94,274.37L252.40,274.92L252.86,275.46L253.32,276.00L253.79,276.55L254.25,277.09L254.72,277.63L255.18,278.17L255.65,278.71L256.11,279.25L256.58,279.78L257.05,280.32L257.52,280.86L257.99,281.39L258.46,281.93L258.93,282.46L259.40,283.00L259.87,283.53L260.35,284.07L260.82,284.60L261.30,285.13L261.77,285.66L262.25,286.19L262.72,286.72L263.20,287.25L263.68,287.78L264.16,288.31L264.64,288.84L265.11,289.37L265.60,289.90L266.08,290.42L266.56,290.95L267.04,291.48L267.52,292.00L268.00,292.53L268.49,293.05L268.97,293.58L269.46,294.10L269.94,294.62L270.43,295.14L270.92,295.67L271.41,296.18L271.90,296.70L272.39,297.22L272.88,297.74L273.38,298.25L273.87,298.76L274.37,299.27L274.87,299.78L275.37,300.29L275.87,300.80L276.37,301.30L276.88,301.80L277.39,302.30L277.90,302.80L278.41,303.30L278.92,303.79L279.44,304.28L279.96,304.77L280.48,305.25L281.00,305.74L281.53,306.22L282.05,306.70L282.58,307.17L283.11,307.65L283.64,308.12L284.18,308.60L284.71,309.07L285.25,309.54L285.78,310.00L286.32,310.47L286.86,310.94L287.40,311.40L287.94,311.87L288.48,312.33L289.03,312.79L289.57,313.26L290.11,313.72L290.65,314.18L291.20,314.64L291.74,315.11L292.28,315.57L292.82,316.03L293.37,316.50L293.91,316.96L294.45,317.43L294.99,317.90L295.53,318.36L296.07,318.83L296.61,319.30L297.14,319.77L297.68,320.24L298.22,320.71L298.76,321.18L299.29,321.66L299.83,322.13L300.37,322.60L300.91,323.07L301.44,323.54L301.98,324.01L302.52,324.48L303.06,324.94L303.60,325.41L304.14,325.88L304.68,326.34L305.22,326.81L305.77,327.27L306.31,327.73L306.86,328.19L307.40,328.65L307.95,329.10L308.50,329.56L309.05,330.01L309.60,330.46L310.16,330.90L310.71,331.35L311.27,331.79L311.83,332.23L312.39,332.66L312.95,333.09L313.52,333.52L314.09,333.95L314.66,334.37L315.23,334.79L315.81,335.21L316.38,335.62L316.96,336.03L317.55,336.43L318.13,336.83L318.72,337.23L319.32,337.62L319.91,338.00L320.51,338.39L321.11,338.76L321.72,339.14L322.33,339.50L322.94,339.87L323.55,340.23L324.17,340.58L324.79,340.93L325.42,341.28L326.04,341.62L326.67,341.96L327.30,342.30L327.93,342.63L328.57,342.96L329.20,343.28L329.84,343.61L330.48,343.93L331.12,344.24L331.77,344.56L332.41,344.87L333.06,345.18L333.71,345.49L334.35,345.79L335.00,346.09L335.65,346.40L336.31,346.70L336.96,346.99L337.61,347.29L338.26,347.58L338.92,347.88L339.57,348.17L340.22,348.46L340.88,348.75L341.53,349.04L342.18,349.33L342.84,349.62L343.49,349.91L344.14,350.20L344.80,350.49L345.45,350.77L346.10,351.06L346.76,351.34L347.41,351.62L348.06,351.90L348.72,352.18L349.37,352.46L350.03,352.73L350.68,353.00L351.34,353.27L352.00,353.53L352.66,353.80L353.32,354.06L353.98,354.31L354.64,354.56L355.30,354.81L355.97,355.06L356.64,355.30L357.30,355.54L357.97,355.77L358.64,356.00L359.32,356.22L359.99,356.44L360.67,356.65L361.35,356.86L362.03,357.06L362.71,357.26L363.40,357.46L364.08,357.65L364.77,357.84L365.46,358.02L366.15,358.20L366.84,358.37L367.53,358.54L368.23,358.71L368.92,358.87L369.62,359.03L370.32,359.19L371.02,359.34L371.72,359.49L372.42,359.64L373.12,359.78L373.82,359.93L374.52,360.07L375.22,360.20L375.93,360.34L376.63,360.47L377.33,360.61L378.04,360.74L378.74,360.86L379.45,360.99L380.15,361.12L380.86,361.24L381.56,361.36L382.26,361.49L382.97,361.61L383.67,361.73L384.38,361.84L385.08,361.96L385.78,362.08L386.49,362.19L387.19,362.30L387.90,362.41L388.60,362.52L389.31,362.63L390.01,362.74L390.71,362.84L391.42,362.95L392.12,363.05L392.83,363.15L393.53,363.25L394.24,363.35L394.94,363.44L395.65,363.54L396.36,363.63L397.06,363.72L397.77,363.81L398.47,363.90L399.18,363.99L399.89,364.07L400.59,364.16L401.30,364.24L402.01,364.32L402.72,364.40L403.42,364.48L404.13,364.56L404.84,364.63L405.55,364.71L406.26,364.78L406.96,364.85L407.67,364.92L408.38,364.99L409.09,365.05L409.80,365.12L410.51,365.18L411.22,365.25L411.93,365.31L412.64,365.37L413.35,365.43L414.06,365.49L414.77,365.54L415.48,365.60L416.19,365.65L416.90,365.71L417.61,365.76L418.32,365.81L419.03,365.86L419.74,365.91L420.46,365.96L421.17,366.00L421.88,366.05L422.59,366.10L423.30,366.14L424.01,366.18L424.73,366.22L425.44,366.27L426.15,366.31L426.86,366.35L427.58,366.38L428.29,366.42L429.00,366.46L429.71,366.49L430.43,366.53L431.14,366.56L431.85,366.60L432.56,366.63L433.28,366.66L433.99,366.69L434.70,366.72L435.42,366.75L436.13,366.78L436.84,366.81L437.56,366.84L438.27,366.87L438.98,366.89L439.70,366.92L440.41,366.95L441.12,366.97L441.84,366.99L442.55,367.02L443.26,367.04L443.98,367.07L444.69,367.09L445.41,367.11L446.12,367.13L446.83,367.15L447.55,367.17L448.26,367.19L448.97,367.21L449.69,367.23L450.40,367.25L451.12,367.27L451.83,367.29L452.54,367.31L453.26,367.33L453.97,367.35L454.68,367.36L455.40,367.38L456.11,367.40L456.83,367.42L457.54,367.43L458.25,367.45L458.97,367.47L459.68,367.48L460.39,367.50L461.11,367.52L461.82,367.53L462.53,367.55L463.25,367.57L463.96,367.58L464.67,367.60L465.39,367.62L466.10,367.63L466.81,367.65L467.53,367.67L468.24,367.68L468.95,367.70L469.67,367.71L470.38,367.73L471.09,367.75L471.81,367.76L472.52,367.78L473.23,367.80L473.94,367.81L474.66,367.83L475.37,367.84L476.08,367.86L476.80,367.87L477.51,367.89L478.22,367.91L478.93,367.92L479.65,367.94L480.36,367.95L481.07,367.96L481.78,367.98L482.50,367.99L483.21,368.01L483.92,368.02L484.63,368.03L485.35,368.05L486.06,368.06L486.77,368.07L487.48,368.09L488.20,368.10L488.91,368.11L489.62,368.12L490.33,368.14L491.05,368.15L491.76,368.16L492.47,368.17L493.18,368.18L493.90,368.19L494.61,368.20L495.32,368.21L496.04,368.22L496.75,368.23L497.46,368.24L498.17,368.24L498.89,368.25L499.60,368.26L500.31,368.27L501.03,368.27L501.74,368.28L502.45,368.28L503.16,368.29L503.88,368.29L504.59,368.30L505.30,368.30L506.02,368.31L506.73,368.31L507.44,368.31L508.16,368.31L508.87,368.32L509.58,368.32L510.30,368.32L511.01,368.32L511.72,368.32L512.44,368.32L513.15,368.32L513.87,368.31L514.58,368.31L515.29,368.31L516.01,368.30L516.72,368.30L517.44,368.30L518.15,368.29L518.86,368.28L519.58,368.28L520.29,368.27L521.01,368.26L521.72,368.25L522.44,368.24L523.15,368.23L523.87,368.22L524.58,368.21L525.30,368.20L526.01,368.19" fill="none" stroke="#4f57a4" stroke-width="2.9" stroke-linejoin="round" stroke-linecap="round"/>

</g>
<defs><clipPath id="clip"><rect x="50" y="11" width="476" height="383"/></clipPath></defs>
<!-- legend -->
<line x1="274.3" y1="47" x2="333.5" y2="47" stroke="#484848" stroke-width="3.2"/>
<line x1="274.3" y1="78.7" x2="333.5" y2="78.7" stroke="#3aa46e" stroke-width="3.2"/>
<line x1="274.3" y1="116" x2="333.5" y2="116" stroke="#e24450" stroke-width="3.2"/>
<line x1="274.3" y1="152.9" x2="333.5" y2="152.9" stroke="#4f57a4" stroke-width="3.2"/>
<text x="339" y="54.8" font-size="25">AgCl</text>
<text x="339" y="87.9" font-size="25">CeO<tspan font-size="15" dy="5.6">2</tspan><tspan dy="-5.6" dx="2">/AgCl-10</tspan></text>
<text x="339" y="124.4" font-size="25">CeO<tspan font-size="15" dy="5.6">2</tspan><tspan dy="-5.6" dx="2">/AgCl-30</tspan></text>
<text x="339" y="161.7" font-size="25">CeO<tspan font-size="15" dy="5.6">2</tspan><tspan dy="-5.6" dx="2">/AgCl-50</tspan></text>
<!-- frame -->
<rect x="50.1" y="10.9" width="475.9" height="383.5" fill="none" stroke="#000" stroke-width="3.3"/>
<g stroke="#000" stroke-width="2.4" stroke-linecap="round">
<line x1="50.10" y1="395" x2="50.10" y2="396.9"/>
<line x1="102.98" y1="395" x2="102.98" y2="400.4"/>
<line x1="155.86" y1="395" x2="155.86" y2="396.9"/>
<line x1="208.73" y1="395" x2="208.73" y2="400.4"/>
<line x1="261.61" y1="395" x2="261.61" y2="396.9"/>
<line x1="314.49" y1="395" x2="314.49" y2="400.4"/>
<line x1="367.37" y1="395" x2="367.37" y2="396.9"/>
<line x1="420.24" y1="395" x2="420.24" y2="400.4"/>
<line x1="473.12" y1="395" x2="473.12" y2="396.9"/>
<line x1="526.00" y1="395" x2="526.00" y2="400.4"/>
</g>
<g font-size="23.8" text-anchor="middle">
<text x="103.1" y="425.1">400</text>
<text x="208.8" y="425.1">500</text>
<text x="314.5" y="425.1">600</text>
<text x="420.3" y="425.1">700</text>
<text x="526.0" y="425.1">800</text>
</g>
<text x="288" y="464.6" font-size="33" text-anchor="middle">Wavelength (nm)</text>
<text transform="translate(30.7,202.7) rotate(-90)" font-size="32.5" text-anchor="middle">Intensity (a.u.)</text>
</g>
</svg>
</body></html>
